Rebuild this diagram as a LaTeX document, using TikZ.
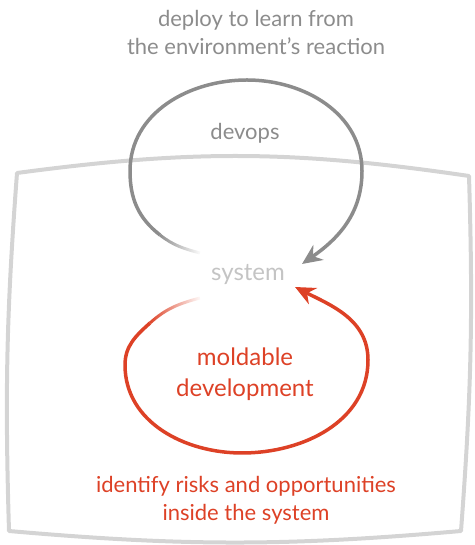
\documentclass[tikz,border=0pt]{standalone}
\usepackage{fontspec}
\setmainfont{Lato}
\usetikzlibrary{arrows.meta, positioning, fadings}

\definecolor{opsgray}{HTML}{8C8C8C}
\definecolor{sysgray}{HTML}{C4C4C4}
\definecolor{framegray}{HTML}{D4D4D4}
\definecolor{moldred}{HTML}{DD4126}

\tikzfading[name=tailfade, left color=transparent!0, right color=transparent!100]

\begin{document}
\begin{tikzpicture}[x=1pt, y=1pt,
    hand/.style={align=center, font=\fontsize{22}{28}\selectfont},
    bighand/.style={align=center, font=\fontsize{24}{31}\selectfont},
    frameline/.style={draw=framegray, line width=4pt, line join=round},
    tail/.style={line width=3pt, path fading=tailfade},
    opsloop/.style={draw=opsgray, line width=3.5pt, -{Stealth[length=20pt, width=18pt]}},
    moldloop/.style={draw=moldred, line width=3.5pt, -{Stealth[length=20pt, width=18pt]}}]
    \useasboundingbox (0,0) rectangle (474,545);

    % the system box
    \draw[frameline] (17,372) to[bend left=8] (469,369) to[bend left=3] (461,14)
        to[bend left=5] (9,14) to[bend left=3] cycle;

    \node[hand, text=opsgray] (deploy) at (256,513) {deploy to learn from\\the environment's reaction};
    \node[hand, text=opsgray] (devops) at (245,412) {devops};
    \node[bighand, text=sysgray] (sys) at (248,270) {system};
    \node[bighand, text=moldred] (molddev) at (245,171) {moldable\\development};
    \node[hand, text=moldred] (risks) at (246,45) {identify risks and opportunities\\inside the system};

    \coordinate (opstail) at (160,310);
    \coordinate (opsleft) at (130,374);
    \coordinate (opstop) at (247,465);
    \coordinate (opsright) at (362,374);
    \coordinate (moldtail) at (150,222);
    \coordinate (moldleft) at (125,180);
    \coordinate (moldbottom) at (242,92);
    \coordinate (moldright) at (368,185);

    % devops loop
    \draw[tail, opsgray] ([shift={(-48,22)}]sys.center) to[out=165, in=-38] (opstail);
    \draw[opsloop] (opstail) to[out=142, in=-90] (opsleft)
        to[out=90, in=180] (opstop) to[out=0, in=90] (opsright)
        to[out=-90, in=35] ([shift={(54,11)}]sys.center);

    % moldable development loop
    \draw[tail, moldred] ([shift={(-48,-23)}]sys.center) to[out=195, in=42] (moldtail);
    \draw[moldloop] (moldtail) to[out=222, in=90] (moldleft)
        to[out=-90, in=180] (moldbottom) to[out=0, in=-90] (moldright)
        to[out=90, in=-27] ([shift={(47,-12)}]sys.center);
\end{tikzpicture}
\end{document}
